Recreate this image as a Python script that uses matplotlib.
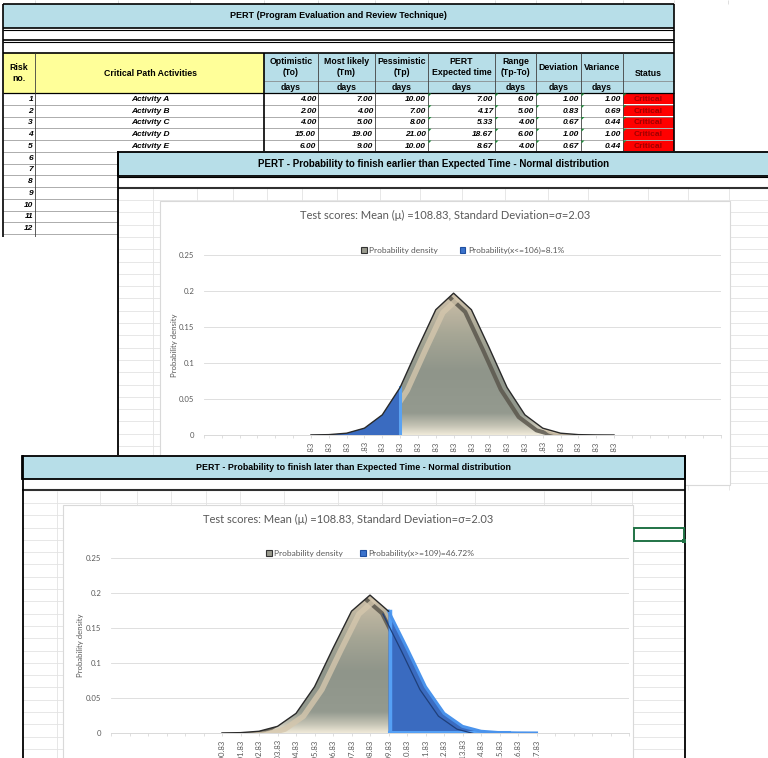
import numpy as np
import matplotlib.pyplot as plt
from matplotlib.patches import Rectangle, Polygon, Patch
from matplotlib.colors import LinearSegmentedColormap
from matplotlib.transforms import Bbox, TransformedBbox

# ---- table data (PERT sheet) ----
risk_no = [1, 2, 3, 4, 5]
activities = ['Activity A', 'Activity B', 'Activity C', 'Activity D', 'Activity E']
optimistic = [4.00, 2.00, 4.00, 15.00, 6.00]
most_likely = [7.00, 4.00, 5.00, 19.00, 9.00]
pessimistic = [10.00, 7.00, 8.00, 21.00, 10.00]
expected = [7.00, 4.17, 5.33, 18.67, 8.67]
range_days = [6.00, 5.00, 4.00, 6.00, 4.00]
deviation = [1.00, 0.83, 0.67, 1.00, 0.67]
variance = [1.00, 0.69, 0.44, 1.00, 0.44]
status = ['Critical', 'Critical', 'Critical', 'Critical', 'Critical']

# ---- chart data (normal distribution, mean 108.83, sd 2.03) ----
x_labels = ['100.83', '101.83', '102.83', '103.83', '104.83', '105.83', '106.83', '107.83', '108.83',
            '109.83', '110.83', '111.83', '112.83', '113.83', '114.83', '115.83', '116.83', '117.83']
density = [0.0001, 0.0005, 0.0025, 0.0095, 0.028, 0.066, 0.121, 0.174, 0.197,
           0.174, 0.121, 0.066, 0.028, 0.0095, 0.0025, 0.0005, 0.0001, 0.0]
y_ticks = [0, 0.05, 0.1, 0.15, 0.2, 0.25]
y_tick_labels = ['0', '0.05', '0.1', '0.15', '0.2', '0.25']

W, H = 768, 758
TEAL = '#b7dee8'
GRID = '#e3e3e3'
TXT = '#595959'
plt.rcParams['font.family'] = ['Liberation Sans', 'DejaVu Sans']

fig = plt.figure(figsize=(W / 100, H / 100), dpi=100)


def layer(z):
    ax = fig.add_axes([0, 0, 1, 1], zorder=z)
    ax.set_xlim(0, W)
    ax.set_ylim(H, 0)
    ax.axis('off')
    return ax


def px_axes(x0, y0, x1, y1, z):
    return fig.add_axes([x0 / W, 1 - y1 / H, (x1 - x0) / W, (y1 - y0) / H], zorder=z)


def box(ax, x0, y0, x1, y1, fc='none', ec='none', lw=0.8, z=1):
    ax.add_patch(Rectangle((x0, y0), x1 - x0, y1 - y0, facecolor=fc, edgecolor=ec, lw=lw, zorder=z))


def hline(ax, y, x0, x1, c='black', lw=0.6, z=2):
    ax.plot([x0, x1], [y, y], color=c, lw=lw, zorder=z, solid_capstyle='butt')


def vline(ax, x, y0, y1, c='black', lw=0.6, z=2):
    ax.plot([x, x], [y0, y1], color=c, lw=lw, zorder=z, solid_capstyle='butt')


# ================= layer 0 : table =================
L0 = layer(0)
for x in [35, 118, 190, 264, 318, 375, 428, 495, 536, 581, 623, 674, 728]:
    vline(L0, x, 0, 4, '#d9d9d9')

box(L0, 3, 4, 674, 27.5, fc=TEAL)
L0.text(338, 16, 'PERT (Program Evaluation and Review Technique)', ha='center', va='center',
        fontsize=6.5, fontweight='bold')
for y, lw in [(4, 1.2), (27.5, 1.2), (29.5, 0.8), (40, 1.2), (41.5, 0.8), (52.5, 1.2)]:
    hline(L0, y, 3, 674, lw=lw)

cols = [3, 35, 264, 318, 375, 428, 495, 536, 581, 623, 674]
box(L0, 3, 53, 264, 93, fc='#ffff99')
box(L0, 264, 53, 674, 93, fc=TEAL)
hline(L0, 81, 264, 674, c='#7f7f7f', lw=0.5)
hline(L0, 93, 3, 674, lw=0.9)

HF = 6.3
L0.text(19, 73, 'Risk\nno.', ha='center', va='center', fontsize=HF, fontweight='bold', linespacing=1.25)
L0.text(150, 73, 'Critical Path Activities', ha='center', va='center', fontsize=HF, fontweight='bold')
heads = ['Optimistic\n(To)', 'Most likely\n(Tm)', 'Pessimistic\n(Tp)', 'PERT\nExpected time',
         'Range\n(Tp-To)', 'Deviation', 'Variance', 'Status']
for i, h in enumerate(heads):
    cx = (cols[i + 2] + cols[i + 3]) / 2
    yy = 67 if i < 7 else 73
    L0.text(cx, yy, h, ha='center', va='center', fontsize=HF, fontweight='bold', linespacing=1.25)
    if i < 7:
        L0.text(cx, 87.5, 'days', ha='center', va='center', fontsize=HF, fontweight='bold')

row_h = 11.75
top = 93
DF = 6.0
for r in range(13):
    y0 = top + r * row_h
    hline(L0, y0 + row_h, 3, 674, c='#8c8c8c', lw=0.5)
    L0.text(33, y0 + row_h / 2 + 0.5, str(r + 1), ha='right', va='center', fontsize=DF,
            fontweight='bold', style='italic')

table_cols = [optimistic, most_likely, pessimistic, expected, range_days, deviation, variance]
for r in range(len(activities)):
    y0 = top + r * row_h
    yc = y0 + row_h / 2 + 0.5
    L0.text(150, yc, activities[r], ha='center', va='center', fontsize=DF, fontweight='bold', style='italic')
    for c, vals in enumerate(table_cols):
        L0.text(cols[c + 3] - 2, yc, f'{vals[r]:.2f}', ha='right', va='center', fontsize=DF,
                fontweight='bold', style='italic')
    box(L0, 623, y0 + 0.5, 674, y0 + row_h - 0.5, fc='#ff0000', z=1)
    L0.text(648.5, yc, status[r], ha='center', va='center', fontsize=DF, color='#a00000', fontweight='bold')
    for gx in [428, 495, 536, 581, 623]:
        L0.add_patch(Polygon([(gx + 0.5, y0 + 0.5), (gx + 3.5, y0 + 0.5), (gx + 0.5, y0 + 3.5)],
                             closed=True, fc='#1e8c3a', ec='none', zorder=3))

for x in cols:
    lw = 1.2 if x in (3, 264, 674) else 0.6
    c = 'black' if x in (3, 264, 674) else '#404040'
    vline(L0, x, 52.5, 93, c=c, lw=lw)
    vline(L0, x, 93, 240, c=c, lw=lw)
vline(L0, 3, 4, 53, lw=1.2)
vline(L0, 674, 4, 53, lw=1.2)
# cut the sheet screenshot below row 12
box(L0, 0, 236.5, 118, 460, fc='white', z=5)


# ================= chart helper =================
grey_cmap = LinearSegmentedColormap.from_list(
    'excel_area', [(0.0, '#efe9d8'), (0.05, '#c4c3b4'), (0.12, '#949a8f'), (0.35, '#8f958a'),
                   (0.55, '#a6a695'), (0.75, '#c8bca6'), (1.0, '#d6c9b2')])

n_before = 6
cat_x = np.arange(n_before, n_before + len(x_labels))
x_vals = np.array([float(s) for s in x_labels])
dens = np.array(density)


def draw_chart(rect, z, n_after, blue_mask, legend_label, left_blue, colspace, label_clip=None):
    ax = px_axes(*rect, z)
    ax.set_facecolor('none')
    n_total = n_before + len(x_labels) + n_after
    ax.set_xlim(0, n_total - 1)
    ax.set_ylim(0, 0.25)

    verts = [(cat_x[0], 0)] + list(zip(cat_x, dens)) + [(cat_x[-1], 0)]
    poly = Polygon(verts, closed=True, fc='none', ec='none')
    ax.add_patch(poly)
    grad = np.linspace(0, 1, 256).reshape(-1, 1)
    im = ax.imshow(grad, extent=[cat_x[0], cat_x[-1], 0, 0.25], origin='lower', cmap=grey_cmap,
                   aspect='auto', interpolation='bilinear', zorder=2)
    im.set_clip_path(poly)
    # 3D bevel look
    band = ax.plot(cat_x - 0.35, dens - 0.003, color='#5b574d', lw=3, alpha=0.85, zorder=3)[0]
    band.set_clip_path(poly)
    lite = ax.plot(cat_x + 0.4, dens - 0.004, color='#d5c7ad', lw=4, alpha=0.8, zorder=3)[0]
    lite.set_clip_path(poly)

    bx = cat_x[blue_mask]
    by = dens[blue_mask]
    bverts = [(bx[0], 0)] + list(zip(bx, by)) + [(bx[-1], 0)]
    ax.add_patch(Polygon(bverts, closed=True, fc='#3a6bc0', ec='none', zorder=4))
    if left_blue:
        ax.plot([bx[-1], bx[-1]], [0, by[-1]], color='#5aa2f2', lw=2.2, zorder=5)
        ax.plot(cat_x, dens, color='#2a2a2a', lw=1.0, zorder=6)
    else:
        ax.plot([bx[0] + 0.1, bx[0] + 0.1], [0, by[0]], color='#55a0f5', lw=2.5, zorder=5)
        ax.plot([bx[0], bx[0] + 6.5], [0.0012, 0.0012], color='#55a0f5', lw=2.2, zorder=5)
        ax.plot(bx, by, color='#4a93ec', lw=2.2, zorder=5)
        ax.plot(bx - 0.3, by - 0.004, color='#1f3f7a', lw=0.9, zorder=6)
        k = np.argmax(blue_mask)
        ax.plot(cat_x[:k + 1], dens[:k + 1], color='#2a2a2a', lw=1.0, zorder=6)

    ax.set_yticks(y_ticks)
    ax.set_yticklabels(y_tick_labels)
    ax.set_xticks(np.arange(n_total))
    ax.set_xticklabels([''] * n_before + x_labels + [''] * n_after)
    ax.tick_params(axis='y', length=0, pad=7, labelsize=5.6, labelcolor=TXT)
    ax.tick_params(axis='x', length=2.5, width=0.6, color='#d9d9d9', pad=2, labelsize=5.6,
                   labelcolor=TXT, labelrotation=90)
    for lab in ax.get_xticklabels() + ax.get_yticklabels():
        lab.set_family('Lato')
    if label_clip is not None:
        # labels disappear under the panel that is pasted on top
        clip = TransformedBbox(Bbox([[0, 1 - label_clip / H], [1, 1]]), fig.transFigure)
        for t in ax.xaxis.get_major_ticks():
            t.label1.set_clip_box(clip)
            t.label1.set_clip_on(True)
    ax.grid(axis='y', color='#d9d9d9', lw=0.6)
    ax.set_axisbelow(True)
    for s in ['top', 'right', 'left']:
        ax.spines[s].set_visible(False)
    ax.spines['bottom'].set_color('#d9d9d9')
    ax.spines['bottom'].set_linewidth(0.7)

    handles = [Patch(fc='#9a9b8f', ec='#333333', lw=0.8, label='Probability density'),
               Patch(fc='#3a72cc', ec='#1f4fa0', lw=0.8, label=legend_label)]
    ax.legend(handles=handles, loc='center', bbox_to_anchor=(0.5, 1.025), ncol=2, frameon=False,
              prop={'family': 'Lato', 'size': 6.0}, labelcolor=TXT, handlelength=0.7,
              handleheight=0.7, handletextpad=0.3, columnspacing=colspace, borderaxespad=0)
    return ax


def panel_grid(ax, x0, x1, y0, y1, xs):
    for y in np.arange(y0, y1, 12.3):
        hline(ax, y, x0, x1, c=GRID, lw=0.6, z=1)
    for x in xs:
        vline(ax, x, y0 - 12, y1, c=GRID, lw=0.6, z=1)


CHART_TITLE = 'Test scores: Mean (\u03bc) =108.83, Standard Deviation=\u03c3=2.03'

# ================= layer 1 : earlier-than panel =================
L1 = layer(1)
box(L1, 118, 151, 790, 490, fc='white', z=0)
panel_grid(L1, 118, 790, 200, 490, [153, 197, 233, 267, 302, 337, 380, 420, 462, 505, 548, 588, 648, 688, 729])
box(L1, 118, 151.5, 790, 175.5, fc=TEAL, ec='black', lw=1.3, z=2)
L1.text(434, 164, 'PERT - Probability to finish earlier than Expected Time - Normal distribution',
        ha='center', va='center', fontsize=7.0, fontweight='bold', zorder=3)
hline(L1, 177, 118, 790, lw=0.8, z=2)
hline(L1, 188, 118, 790, c='#303030', lw=1.5, z=2)
vline(L1, 118, 151, 460, lw=1.3, z=2)
box(L1, 160, 201, 730, 485, fc='white', ec='#d9d9d9', lw=0.8, z=3)
L1.text(445, 215, CHART_TITLE, ha='center', va='center', fontsize=8.0, color=TXT, family='Lato', zorder=4)
L1.text(175, 345, 'Probability density', ha='center', va='center', rotation=90, fontsize=5.6,
        color=TXT, family='Lato', zorder=4)

draw_chart((204, 255, 721, 435), 2, 6, x_vals <= 106, 'Probability(x<=106)=8.1%', True, 2.6,
           label_clip=453)

# ================= layer 2 : later-than panel =================
L2 = layer(3)
box(L2, 22, 455, 685, 770, fc='white', z=0)
panel_grid(L2, 22, 685, 503, 770, [57, 100, 137, 171, 206, 240, 284, 338, 382, 436, 475, 544, 591, 632])
box(L2, 22, 455.5, 685, 478.5, fc=TEAL, ec='black', lw=1.3, z=2)
L2.text(353, 467, 'PERT - Probability to finish later than Expected Time - Normal distribution',
        ha='center', va='center', fontsize=6.4, fontweight='bold', zorder=3)
hline(L2, 490, 22, 685, c='#303030', lw=1.5, z=2)
vline(L2, 22.5, 455, 770, lw=1.3, z=2)
vline(L2, 684.5, 455, 770, lw=1.3, z=2)
box(L2, 63, 505, 633, 780, fc='white', ec='#d9d9d9', lw=0.8, z=3)
box(L2, 634, 527.5, 684, 540.5, fc='none', ec='#217346', lw=1.4, z=3)
box(L2, 682, 538.5, 686, 542.5, fc='#217346', ec='none', z=4)
L2.text(348, 519, CHART_TITLE, ha='center', va='center', fontsize=8.0, color=TXT, family='Lato', zorder=4)
L2.text(80, 645, 'Probability density', ha='center', va='center', rotation=90, fontsize=5.6,
        color=TXT, family='Lato', zorder=4)

draw_chart((111, 558, 629, 733), 4, 5, x_vals >= 109, 'Probability(x>=109)=46.72%', False, 2.0)

fig.savefig('out.png', dpi=100, facecolor='white')
